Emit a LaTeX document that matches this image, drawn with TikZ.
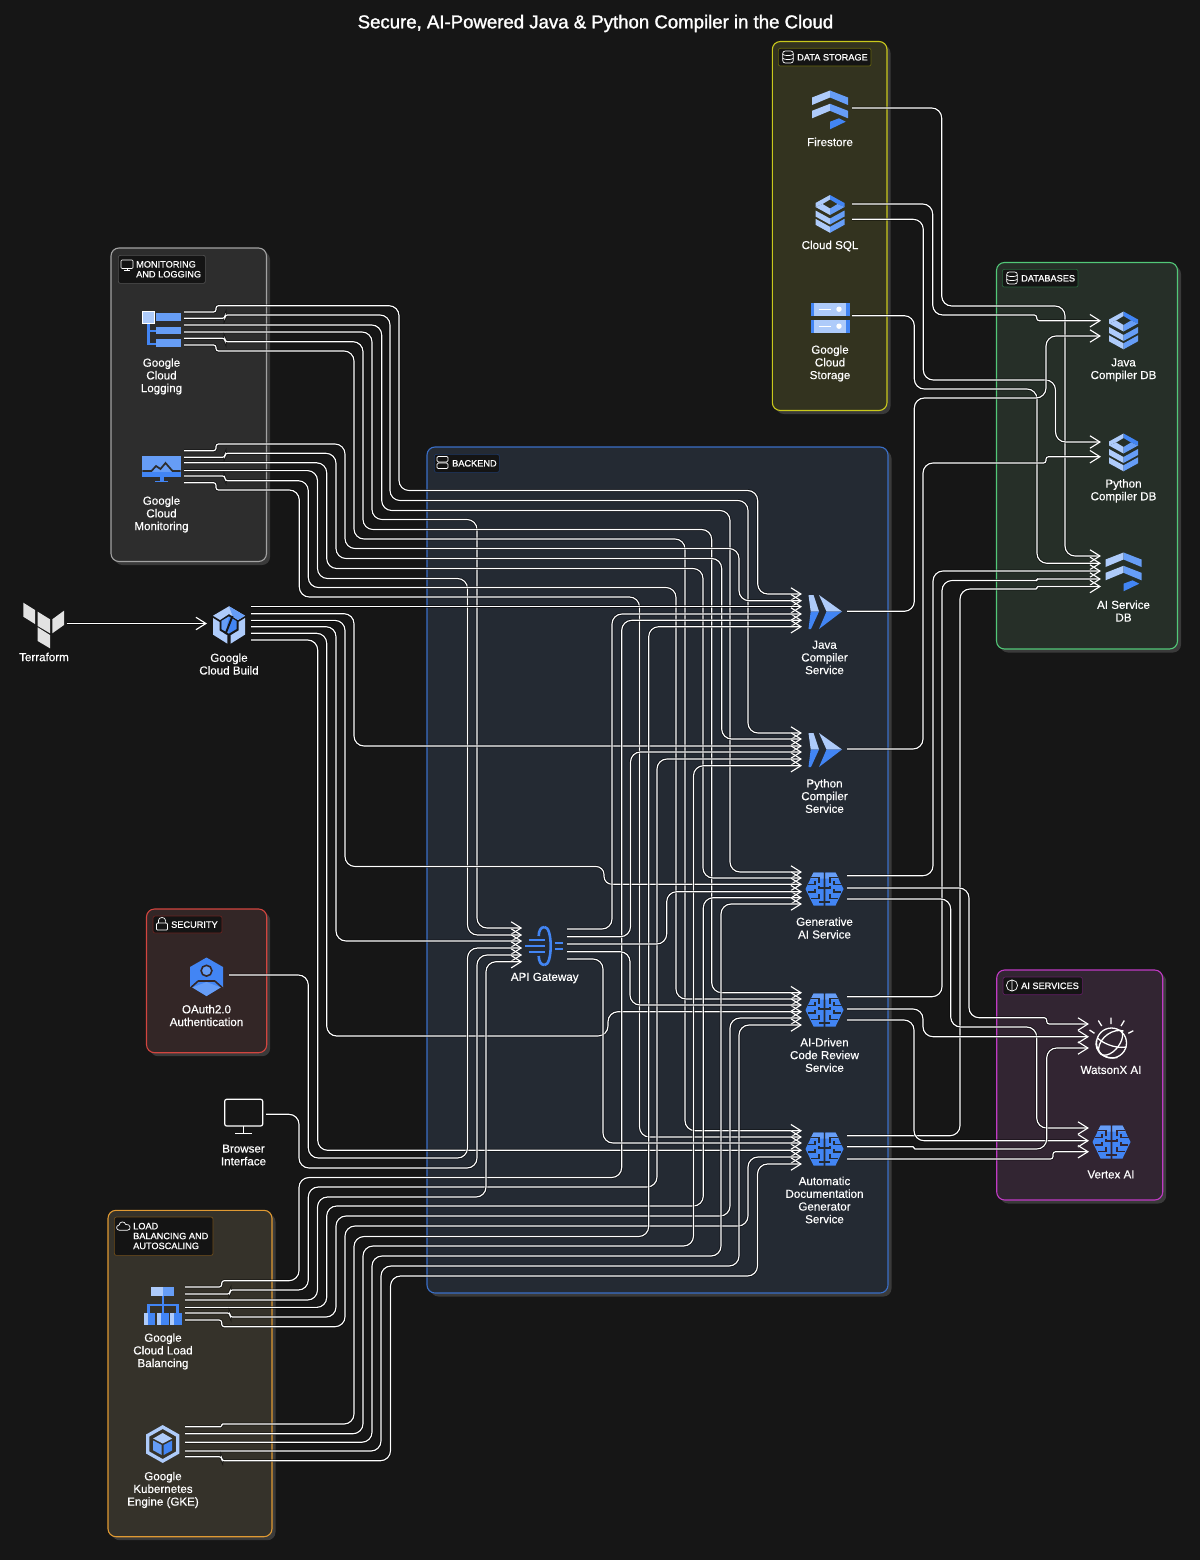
\documentclass[tikz,border=0pt]{standalone}
\usepackage{fontspec}
\setmainfont{Liberation Sans}
\newfontfamily\chipf[FakeBold=0.7]{Liberation Sans}
\newfontfamily\titlef[FakeBold=1.4]{Liberation Sans}
\newfontfamily\labf[FakeBold=0.3]{Liberation Sans}
\usetikzlibrary{arrows.meta}
\definecolor{pagebg}{HTML}{161616}
\definecolor{gblue}{HTML}{4285F4}
\definecolor{gmid}{HTML}{669DF6}
\definecolor{glight}{HTML}{AECBFA}
\definecolor{shadowc}{HTML}{3A3A3A}
\definecolor{tfc}{HTML}{E2E2E2}
\definecolor{cM}{HTML}{A2A2A2}\definecolor{fM}{HTML}{2D2D2D}
\definecolor{cB}{HTML}{3A6FC8}\definecolor{fB}{HTML}{242A33}
\definecolor{cS}{HTML}{C9C81C}\definecolor{fS}{HTML}{33331F}
\definecolor{cD}{HTML}{52C878}\definecolor{fD}{HTML}{262F28}
\definecolor{cA}{HTML}{C03AC4}\definecolor{fA}{HTML}{322532}
\definecolor{cE}{HTML}{D2453F}\definecolor{fE}{HTML}{332626}
\definecolor{cL}{HTML}{E09A33}\definecolor{fL}{HTML}{35322A}
\colorlet{brainbg}{fB}
\tikzset{
  x=1pt,y=-1pt,
  rs/.style={rounded corners=2.5pt},
  rt/.style={rounded corners=1pt},
  rm/.style={rounded corners=8pt},
  rl/.style={rounded corners=10pt},
  wire/.style={draw=white,line width=1.15pt,rl,
    -{Straight Barb[length=10pt,width=12.5pt,line width=1.15pt]},
    preaction={draw=black,draw opacity=.55,line width=2.8pt}},
  ico/.style={inner sep=0,outer sep=0,minimum width=45pt,minimum height=40pt},
  lab/.style={text=white,align=center,font=\labf\fontsize{11.6}{12.7}\selectfont,inner sep=0},
  chip/.style={fill=black!92!white,rounded corners=2pt,line width=.7pt,anchor=north west,inner sep=0},
  chiptxt/.style={text=white,align=left,anchor=west,inner sep=0,font=\chipf\fontsize{9.2}{9.9}\selectfont},
  gi/.style={draw=white,line width=.7pt,fill=none},
  runchev/.pic={
    \fill[glight] (-16,-16.5)--(-11,-16.5)--(-5.5,0)--(-13.8,0)--cycle;
    \fill[gblue] (-13.8,0)--(-5.5,0)--(-13.5,17.5)--(-16,17.5)--cycle;
    \fill[glight] (-5.5,-16.5)--(17.5,0)--(2,0)--cycle;
    \fill[gblue] (2,0)--(17.5,0)--(-5.5,17.5)--cycle;
  },
  brain/.pic={
    \foreach \s in {1,-1}{
      \begin{scope}[xscale=\s]
        \fill[gblue] (-0.9,-16.5)--(-11,-16.5)--(-19,0)--(-11,16.5)--(-0.9,16.5)--cycle;
        \fill[gmid] (-0.9,-16.5)--(-11,-16.5)--(-14,-10.5)--(-0.9,-10.5)--cycle;
        \draw[brainbg,line width=1.5pt,line join=miter]
          (-13.5,-11.5)--(-5.5,-11.5)--(-5.5,-6.5)
          (-17,-4.3)--(-9.5,-4.3)--(-9.5,-8)
          (-0.9,-1)--(-5.5,-1)--(-5.5,-3)
          (-16.5,3)--(-9.5,3)--(-9.5,-0.5)
          (-13.5,9.5)--(-5.5,9.5)--(-5.5,4.5)
          (-5.5,13)--(-0.9,13);
      \end{scope}
    }
  },
  dbstack/.pic={
    \fill[glight] (0,-19)--(-14.5,-11)--(-14.5,-7)--(-7.5,-10)--(0,-14.5)--cycle;
    \fill[gblue] (0,-19)--(14.5,-11)--(14.5,-7)--(7.5,-10)--(0,-14.5)--cycle;
    \fill[glight] (-14.5,-7)--(0,1)--(0,-5.5)--(-7.5,-10)--cycle;
    \fill[gmid] (14.5,-7)--(0,1)--(0,-5.5)--(7.5,-10)--cycle;
    \foreach \yy in {-3.5,4.8}{
      \fill[glight] (-14.5,\yy)--(0,\yy+8)--(0,\yy+14)--(-14.5,\yy+6)--cycle;
      \fill[gmid] (14.5,\yy)--(0,\yy+8)--(0,\yy+14)--(14.5,\yy+6)--cycle;
    }
  },
  fire/.pic={
    \foreach \yy in {0,13.3}{
      \fill[glight] (-18,\yy-12.5)--(0,\yy-19.5)--(0,\yy-12.5)--(-18,\yy-5)--cycle;
      \fill[gmid] (18,\yy-12.5)--(0,\yy-19.5)--(0,\yy-12.5)--(18,\yy-5)--cycle;
    }
    \fill[gblue] (0,11.7)--(9,8.3)--(15.7,11.7)--(0,19.3)--cycle;
  },
  stor/.pic={
    \foreach \yy in {-15,2}{
      \fill[gblue] (-19.5,\yy) rectangle (19.5,\yy+13.4);
      \fill[glight] (-16,\yy) rectangle (16,\yy+13.4);
      \draw[white,line width=1.1pt] (-11.5,\yy+6.7)--(0.5,\yy+6.7);
      \fill[white] (9,\yy+6.7) circle (2.7);
    }
  },
  logi/.pic={
    \draw[gblue,line width=2.6pt] (-13.2,-6)--(-13.2,15)--(-5.5,15) (-13.2,2)--(-5.5,2);
    \fill[glight,draw=white,line width=.4pt] (-19.2,-18) rectangle (-7.5,-6.3);
    \foreach \yy in {-16,-2.5,10.3}{
      \fill[gmid] (-5.5,\yy) rectangle (19.2,\yy+7.8);
    }
  },
  moni/.pic={
    \fill[gmid] (-19.2,-13) rectangle (19.2,3.2);
    \fill[gblue] (-19.2,3.2) rectangle (19.2,8.3);
    \fill[gblue] (-2,8.3) rectangle (2,12);
    \fill[gblue] (-6.5,11.5) rectangle (6.8,13);
    \draw[fM,line width=1.7pt] (-19.2,2)--(-10,2)--(-5.5,-3)--(-1,0)--(4,-6)--(11,2)--(19.2,2);
  },
  buildi/.pic={
    \fill[glight] (0,-18.7)--(16,-9.3)--(9,-5)--(0,-11)--(-9,-5)--(-16,-9.3)--cycle;
    \fill[gmid] (0,-18.7)--(16,-9.3)--(9,-5)--(4,-8)--cycle;
    \fill[glight] (-16,-7)--(-9.5,-3)--(-9.5,5.5)--(-1.6,10.3)--(-1.6,18.7)--(-16,9.6)--cycle;
    \fill[glight] (16,-7)--(9.5,-3)--(9.5,5.5)--(1.6,10.3)--(1.6,18.7)--(16,9.6)--cycle;
    \fill[gblue] (0,-8.5)--(7.5,-4)--(7.5,4)--(0,8.5)--(-7.5,4)--(-7.5,-4)--cycle;
    \fill[gmid] (0,-8.5)--(-7.5,-4)--(-7.5,4)--(0,8.5)--(-2,0)--cycle;
    \draw[pagebg,line width=2pt] (3.5,-9)--(-3.5,9);
  },
  gkei/.pic={
    \draw[glight,line width=3.4pt,line join=miter] (0,-17)--(15,-8.5)--(15,8.5)--(0,17)--(-15,8.5)--(-15,-8.5)--cycle;
    \fill[glight] (0,-11)--(9.5,-5.5)--(0,-0.5)--(-9.5,-5.5)--cycle;
    \fill[gmid] (-9.5,-3.5)--(-1,1)--(-1,11)--(-9.5,6.3)--cycle;
    \fill[gblue] (9.5,-3.5)--(1,1)--(1,11)--(9.5,6.3)--cycle;
  },
  lbi/.pic={
    \fill[glight] (-11.5,-19.3) rectangle (0,-10);
    \fill[gmid] (0,-19.3) rectangle (11.5,-10);
    \draw[gblue,line width=2.4pt] (0,-10)--(0,-1) (-14.2,7.3)--(-14.2,-1)--(14.8,-1)--(14.8,7.3) (0,-1)--(0,7.3);
    \foreach \xx in {-19.2,-5.8,7.5}{
      \fill[glight] (\xx,7.3) rectangle (\xx+4,19);
      \fill[gblue] (\xx+4,7.3) rectangle (\xx+11.7,19);
    }
  },
  oauthi/.pic={
    \fill[gblue] (0,-19.5)--(16.5,-10)--(16.5,9)--(0,19)--(-16.5,9)--(-16.5,-10)--cycle;
    \fill[gmid] (0,5)--(16.5,11.3)--(16.5,9)--(0,19)--(-16.5,9)--(-16.5,11.3)--cycle;
    \draw[fE,line width=1.6pt,fill=gmid] (0,-6.3) circle (5.4);
    \draw[fE,line width=1.6pt,line join=round] (-16.5,11.3)--(-8.3,4)--(8.3,4)--(16.5,11.3);
  },
  apii/.pic={
    \draw[gblue,line width=2.3pt] (-19.3,0)--(0.7,0) (-16,-6)--(0,-6) (-16,6.3)--(0,6.3);
    \draw[gblue,line width=2.3pt] (10,-2.8)--(18,-2.8) (10,3)--(18,3);
    \draw[gblue,line width=2.6pt] (0,-19) .. controls (8,-19) and (8,19) .. (0,19);
    \draw[gblue,line width=2.6pt] (0,-19) .. controls (-4,-19) and (-6,-15) .. (-6,-10);
    \draw[gblue,line width=2.6pt] (0,19) .. controls (-4,19) and (-6,15) .. (-6,10);
  },
  browseri/.pic={
    \draw[white,line width=1.2pt,rounded corners=2pt] (-19,-14.7) rectangle (19,12);
    \draw[white,line width=1.2pt] (0,12)--(0,19.5) (-8.5,19.5)--(8.5,19.5);
  },
  watsoni/.pic={
    \begin{scope}[white,line width=1.3pt]
      \draw (-0.5,-25.5)--(-0.5,-19) (-13.2,-22.5)--(-9.8,-17) (12.8,-22.5)--(9.5,-17)
        (-22,-13)--(-17,-9.7) (21.8,-12.3)--(16.8,-9.7);
      \draw (0,0) circle (15);
      \draw (-15,-3) .. controls (-18,9) and (-6,17) .. (6,14.5);
      \draw (12,-12) .. controls (2,-15) and (-12,-6) .. (-13,6) .. controls (-13,11) and (-9,13) .. (-5,12)
        .. controls (4,10) and (12,-2) .. (11,-9) .. controls (11,-11) and (10,-13) .. (8,-13);
      \draw (-14,-5) .. controls (-10,-1) and (2,6) .. (15,4);
    \end{scope}
  },
  gmon/.pic={\draw[gi,rounded corners=1pt] (-6,-5) rectangle (6,3.5);\draw[gi] (0,3.5)--(0,5.5) (-3,5.8)--(3,5.8);},
  gdb/.pic={\draw[gi,rounded corners=2.5pt] (-5.3,-6) rectangle (5.3,6);\draw[gi] (-5.3,-2.6) .. controls (-3,-1) and (3,-1) .. (5.3,-2.6) (-5.3,1.4) .. controls (-3,3) and (3,3) .. (5.3,1.4);},
  gcloud/.pic={\draw[gi] (-4,4.3) .. controls (-8,4.3) and (-8,-0.8) .. (-4.6,-1) .. controls (-4,-5) and (1,-5) .. (2,-1.6) .. controls (7,-2.5) and (8,4.3) .. (3.5,4.3) -- cycle;},
  glock/.pic={\draw[gi,rounded corners=1pt] (-5.5,-1) rectangle (5.5,6);\draw[gi] (-3.6,-1) -- (-3.6,-3.5) .. controls (-3.6,-7.5) and (3.6,-7.5) .. (3.6,-3.5) -- (3.6,-1);},
  gbr/.pic={\draw[gi] (0,0) circle (5.6) (0,-5.6)--(0,5.6);},
  gsrv/.pic={\draw[gi,rounded corners=1.2pt] (-5.5,-6) rectangle (5.5,-.6) (-5.5,.6) rectangle (5.5,6);},
}
\newcommand\pnl[6]{%
  \fill[shadowc,rounded corners=8pt] (#1+3.5,#2+3.5) rectangle (#3+3.5,#4+3.5);
  \draw[fill=#6,draw=#5,line width=1.1pt,rounded corners=8pt] (#1,#2) rectangle (#3,#4);
}
\newcommand\wire[5]{\draw[wire] (#1.east |- 0,#2) #5 -- (#3.west |- 0,#4);}
\begin{document}
\begin{tikzpicture}
\useasboundingbox[fill=pagebg] (0,0) rectangle (1200,1560);
% ------ panels
\pnl{111}{248}{266.5}{561.5}{cM}{fM}
\pnl{427}{447}{888}{1293}{cB}{fB}
\pnl{772.3}{41.5}{887}{410.5}{cS}{fS}
\pnl{996.5}{262.5}{1177.5}{649}{cD}{fD}
\pnl{996.7}{970}{1162.7}{1200}{cA}{fA}
\pnl{146.5}{909}{266.7}{1052.7}{cE}{fE}
\pnl{108}{1210.3}{272}{1536.7}{cL}{fL}
% ------ chips
\node[chip,draw=cM!50!black,minimum width=87pt,minimum height=28pt] (chipM) at (118,255) {};
\node[chip,draw=cB!50!black,minimum width=65pt,minimum height=18pt] (chipB) at (434,454) {};
\node[chip,draw=cS!50!black,minimum width=92.7pt,minimum height=17.7pt] (chipS) at (778,48) {};
\node[chip,draw=cD!50!black,minimum width=75.7pt,minimum height=17.7pt] (chipD) at (1002,269) {};
\node[chip,draw=cA!50!black,minimum width=79.3pt,minimum height=17.6pt] (chipA) at (1002.7,976.7) {};
\node[chip,draw=cE!50!black,minimum width=69pt,minimum height=17pt] (chipE) at (152.7,915.7) {};
\node[chip,draw=cL!50!black,minimum width=98.7pt,minimum height=38.3pt] (chipL) at (114,1216.7) {};
\node[chiptxt] (tM) at (136,269.3) {MONITORING\\AND LOGGING};
\node[chiptxt] (tB) at (452,463.3) {BACKEND};
\node[chiptxt] (tS) at (797,57.3) {DATA STORAGE};
\node[chiptxt] (tD) at (1021,278.3) {DATABASES};
\node[chiptxt] (tA) at (1021,985.8) {AI SERVICES};
\node[chiptxt] (tE) at (171,924.6) {SECURITY};
\node[chiptxt] (tL) at (133,1236) {LOAD\\BALANCING AND\\AUTOSCALING};
\pic at (127,265) {gmon};
\pic at (442.5,462.5) {gsrv};
\pic at (788,57) {gdb};
\pic at (1012,278) {gdb};
\pic at (1012,985.5) {gbr};
\pic at (162,924) {glock};
\pic at (123.7,1226) {gcloud};
% ------ icon nodes (their east and west anchors are the connector ports)
\node[ico] (log) at (161.5,329) {};
\node[ico] (mon) at (161.5,467) {};
\node[ico] (tf) at (44,625) {};
\node[ico,minimum width=44pt] (bld) at (229,625) {};
\node[ico] (java) at (824.5,611.5) {};
\node[ico] (py) at (824.5,749.5) {};
\node[ico] (gen) at (824.5,889) {};
\node[ico] (rev) at (824.5,1010) {};
\node[ico] (doc) at (824.5,1149) {};
\node[ico] (api) at (544.7,946) {};
\node[ico,minimum width=44pt] (fs) at (830,110) {};
\node[ico,minimum width=44pt] (sql) at (830,214) {};
\node[ico,minimum width=44pt] (gcs) at (830,317.5) {};
\node[ico] (jdb) at (1123.5,330.5) {};
\node[ico] (pdb) at (1123.5,452.5) {};
\node[ico] (adb) at (1123.5,572) {};
\node[ico] (wat) at (1111.5,1043) {};
\node[ico] (ver) at (1111.5,1142) {};
\node[ico] (oa) at (206.5,977) {};
\node[ico] (br) at (243.7,1114) {};
\node[ico] (lb) at (162.7,1306) {};
\node[ico] (gke) at (162.7,1444) {};
% ------ logging
\wire{log}{312}{java}{594}{[rs] -- (216,312) -- (216,305.7) [rl] -- (399,305.7) -- (399,490.5) -- (757.7,490.5) -- (757.7,594)}
\wire{log}{318.3}{py}{733}{[rs] -- (225,318.3) -- (225,315) [rl] -- (390,315) -- (390,500.5) -- (748,500.5) -- (748,733)}
\wire{log}{325}{gen}{872}{-- (381.7,325) -- (381.7,510.5) -- (730,510.5) -- (730,872)}
\wire{log}{332}{api}{928}{-- (372,332) -- (372,519.5) -- (477,519.5) -- (477,928)}
\wire{log}{338.3}{rev}{992.7}{[rs] -- (225,338.3) -- (225,341.7) [rl] -- (363,341.7) -- (363,529.5) -- (711.7,529.5) -- (711.7,992.7)}
\wire{log}{345}{doc}{1130.7}{[rs] -- (216,345) -- (216,351) [rl] -- (354,351) -- (354,539) -- (685,539) -- (685,1130.7)}
% ------ monitoring
\wire{mon}{450.7}{java}{600.7}{[rs] -- (216,450.7) -- (216,444) [rl] -- (345,444) -- (345,548.5) -- (739,548.5) -- (739,600.7)}
\wire{mon}{457.3}{py}{739}{[rs] -- (225,457.3) -- (225,453.3) [rl] -- (336,453.3) -- (336,558.5) -- (721.7,558.5) -- (721.7,739)}
\wire{mon}{462.8}{gen}{878}{-- (326.7,462.8) -- (326.7,568.5) -- (703,568.5) -- (703,878)}
\wire{mon}{470.6}{api}{935}{-- (317.5,470.6) -- (317.5,578.5) -- (467.5,578.5) -- (467.5,935)}
\wire{mon}{476}{rev}{999}{[rs] -- (225,476) -- (225,480.7) [rl] -- (308.3,480.7) -- (308.3,587.5) -- (676,587.5) -- (676,999)}
\wire{mon}{482.7}{doc}{1137}{[rs] -- (216,482.7) -- (216,490) [rl] -- (299.3,490) -- (299.3,597) -- (639.5,597) -- (639.5,1137)}
% ------ terraform and cloud build
\draw[wire] (tf.east |- 0,623.5) -- (bld.west |- 0,623.5);
\wire{bld}{606.7}{java}{606.7}{}
\wire{bld}{613.7}{py}{746}{-- (354,613.7) -- (354,746)}
\wire{bld}{620.4}{gen}{884.3}{-- (345,620.4) -- (345,866.5) [rm] -- (604,866.5) -- (604,884.3)}
\wire{bld}{626.7}{api}{941}{-- (336,626.7) -- (336,941)}
\wire{bld}{633.3}{rev}{1011.7}{-- (326.7,633.3) -- (326.7,1036) -- (608,1036) -- (608,1011.7)}
\wire{bld}{640}{doc}{1150.3}{-- (317.7,640) -- (317.7,1150.3)}
% ------ security, browser
\wire{oa}{975}{api}{948}{-- (308.3,975) -- (308.3,1158) -- (467.5,1158) -- (467.5,948)}
\wire{br}{1114.3}{api}{955}{-- (299,1114.3) -- (299,1168) -- (477,1168) -- (477,955)}
% ------ load balancing
\wire{lb}{1287}{java}{620.3}{[rs] -- (221.7,1287) -- (221.7,1280.7) [rl] -- (299,1280.7) -- (299,1177.5) -- (621.7,1177.5) -- (621.7,620.3)}
\wire{lb}{1294}{py}{759}{[rs] -- (230,1294) -- (230,1290) [rl] -- (308.3,1290) -- (308.3,1187) -- (657,1187) -- (657,759)}
\wire{lb}{1300}{api}{961.7}{-- (317.5,1300) -- (317.5,1197) -- (486,1197) -- (486,961.7)}
\wire{lb}{1307.4}{gen}{897.7}{-- (326.7,1307.4) -- (326.7,1206) -- (703.3,1206) -- (703.3,897.7)}
\wire{lb}{1313}{rev}{1018}{[rs] -- (230,1313) -- (230,1317) [rl] -- (336,1317) -- (336,1216) -- (730,1216) -- (730,1018)}
\wire{lb}{1320}{doc}{1157}{[rs] -- (221.7,1320) -- (221.7,1326.7) [rl] -- (345,1326.7) -- (345,1226) -- (748,1226) -- (748,1157)}
% ------ kubernetes
\wire{gke}{1426.7}{java}{626.7}{[rt] -- (221.7,1426.7) -- (221.7,1424) [rl] -- (354,1424) -- (354,1236.5) -- (648.7,1236.5) -- (648.7,626.7)}
\wire{gke}{1433.7}{py}{765.7}{-- (363,1433.7) -- (363,1246) -- (693.5,1246) -- (693.5,765.7)}
\wire{gke}{1442.2}{gen}{904}{-- (372,1442.2) -- (372,1256) -- (721,1256) -- (721,904)}
\wire{gke}{1451}{rev}{1025}{-- (381,1451) -- (381,1266) -- (739,1266) -- (739,1025)}
\wire{gke}{1456.7}{doc}{1164}{[rs] -- (221.7,1456.7) -- (221.7,1460.7) [rl] -- (390.5,1460.7) -- (390.5,1276) -- (757.5,1276) -- (757.5,1164)}
% ------ API gateway out
\wire{api}{929}{java}{614}{-- (612,929) -- (612,614)}
\wire{api}{936.7}{py}{752}{-- (630.5,936.7) -- (630.5,752)}
\wire{api}{944}{gen}{891.7}{-- (666.7,944) -- (666.7,891.7)}
\wire{api}{951.7}{rev}{1005}{-- (630,951.7) -- (630,1005)}
\wire{api}{959}{doc}{1143}{-- (603,959) -- (603,1143)}
% ------ data stores
\wire{fs}{108}{adb}{556}{-- (941.7,108) -- (941.7,306) -- (1065,306) -- (1065,556)}
\wire{sql}{204}{jdb}{320.7}{-- (932.7,204) -- (932.7,315) [rs] -- (1036.7,315) -- (1036.7,320.7)}
\wire{sql}{219.3}{pdb}{442}{-- (923.3,219.3) -- (923.3,380) -- (1055.5,380) -- (1055.5,442)}
\wire{gcs}{315.7}{adb}{563.3}{-- (914.3,315.7) -- (914.3,389) -- (1037,389) -- (1037,563.3)}
% ------ compiler services to databases
\wire{java}{611.3}{jdb}{336}{-- (914.3,611.3) -- (914.3,398) -- (1046,398) -- (1046,336)}
\wire{py}{749}{pdb}{456.7}{-- (923,749) -- (923,463) [rs] -- (1046,463) -- (1046,456.7)}
\wire{gen}{875.7}{adb}{571}{-- (933,875.7) -- (933,571)}
\wire{rev}{996.7}{adb}{579}{-- (942,996.7) -- (942,580.5) [rt] -- (1037,580.5) -- (1037,579)}
\wire{doc}{1135.7}{adb}{586.5}{-- (960,1135.7) -- (960,589) [rt] -- (1037,589) -- (1037,586.5)}
% ------ services to AI
\wire{gen}{888}{wat}{1024}{-- (969,888) -- (969,1017.7) [rs] -- (1046.7,1017.7) -- (1046.7,1024)}
\wire{gen}{899}{ver}{1128}{-- (950.7,899) -- (950.7,1027) -- (1036.7,1027) -- (1036.7,1128)}
\wire{rev}{1009}{wat}{1036.7}{-- (923,1009) -- (923,1036.7)}
\wire{rev}{1020}{ver}{1140.7}{-- (914,1020) -- (914,1140.7)}
\wire{doc}{1146.7}{wat}{1048}{[rt] -- (914,1146.7) -- (914,1149) [rl] -- (1046.7,1149) -- (1046.7,1048)}
\wire{doc}{1159}{ver}{1151.7}{[rs] -- (1053,1159) -- (1053,1151.7)}
% ------ icons
\pic at (log) {logi};
\pic at (161.5,469) {moni};
\fill[tfc] (23.3,602.7)--(35,610)--(35,624)--(23.3,616.7)--cycle;
\fill[tfc] (37.7,611.7)--(50,619.3)--(50,633.3)--(37.7,626)--cycle;
\fill[tfc] (52.3,619.3)--(64,610.7)--(64,625)--(52.3,633.3)--cycle;
\fill[tfc] (37.7,627.3)--(50,635)--(50,648.3)--(37.7,641)--cycle;
\pic at (bld) {buildi};
\pic at (java) {runchev};
\pic at (py) {runchev};
\pic at (gen) {brain};
\pic at (rev) {brain};
\pic at (doc) {brain};
\begin{scope}\colorlet{brainbg}{fA}\pic at (ver) {brain};\end{scope}
\pic at (api) {apii};
\pic at (fs) {fire};
\pic at (sql) {dbstack};
\pic at (gcs) {stor};
\pic at (jdb) {dbstack};
\pic at (pdb) {dbstack};
\pic at (adb) {fire};
\pic at (wat) {watsoni};
\pic at (oa) {oauthi};
\pic at (br) {browseri};
\pic at (lb) {lbi};
\pic at (gke) {gkei};
% ------ labels
\node[text=white,font=\titlef\fontsize{18.6}{20}\selectfont,inner sep=0] (title) at (595.5,23.5) {Secure, AI-Powered Java \& Python Compiler in the Cloud};
\node[lab] (logt) at (161.5,376.4) {Google\\Cloud\\Logging};
\node[lab] (mont) at (161.5,514.4) {Google\\Cloud\\Monitoring};
\node[lab] (tft) at (44,657) {Terraform};
\node[lab] (bldt) at (229,664) {Google\\Cloud Build};
\node[lab] (javat) at (824.5,657.5) {Java\\Compiler\\Service};
\node[lab] (pyt) at (824.5,796) {Python\\Compiler\\Service};
\node[lab] (gent) at (824.5,928) {Generative\\AI Service};
\node[lab] (revt) at (824.5,1055) {AI-Driven\\Code Review\\Service};
\node[lab] (doct) at (824.5,1200) {Automatic\\Documentation\\Generator\\Service};
\node[lab] (apit) at (544.7,978) {API Gateway};
\node[lab] (fst) at (830,142) {Firestore};
\node[lab] (sqlt) at (830,246) {Cloud SQL};
\node[lab] (gcst) at (830,363.4) {Google\\Cloud\\Storage};
\node[lab] (jdbt) at (1123.5,369.9) {Java\\Compiler DB};
\node[lab] (pdbt) at (1123.5,490.9) {Python\\Compiler DB};
\node[lab] (adbt) at (1123.5,611) {AI Service\\DB};
\node[lab] (watt) at (1111,1070) {WatsonX AI};
\node[lab] (vert) at (1111,1174.5) {Vertex AI};
\node[lab] (oat) at (206.5,1015.5) {OAuth2.0\\Authentication};
\node[lab] (brt) at (243.5,1155) {Browser\\Interface};
\node[lab] (lbt) at (163,1351.4) {Google\\Cloud Load\\Balancing};
\node[lab] (gket) at (163,1489.9) {Google\\Kubernetes\\Engine (GKE)};
\end{tikzpicture}
\end{document}
